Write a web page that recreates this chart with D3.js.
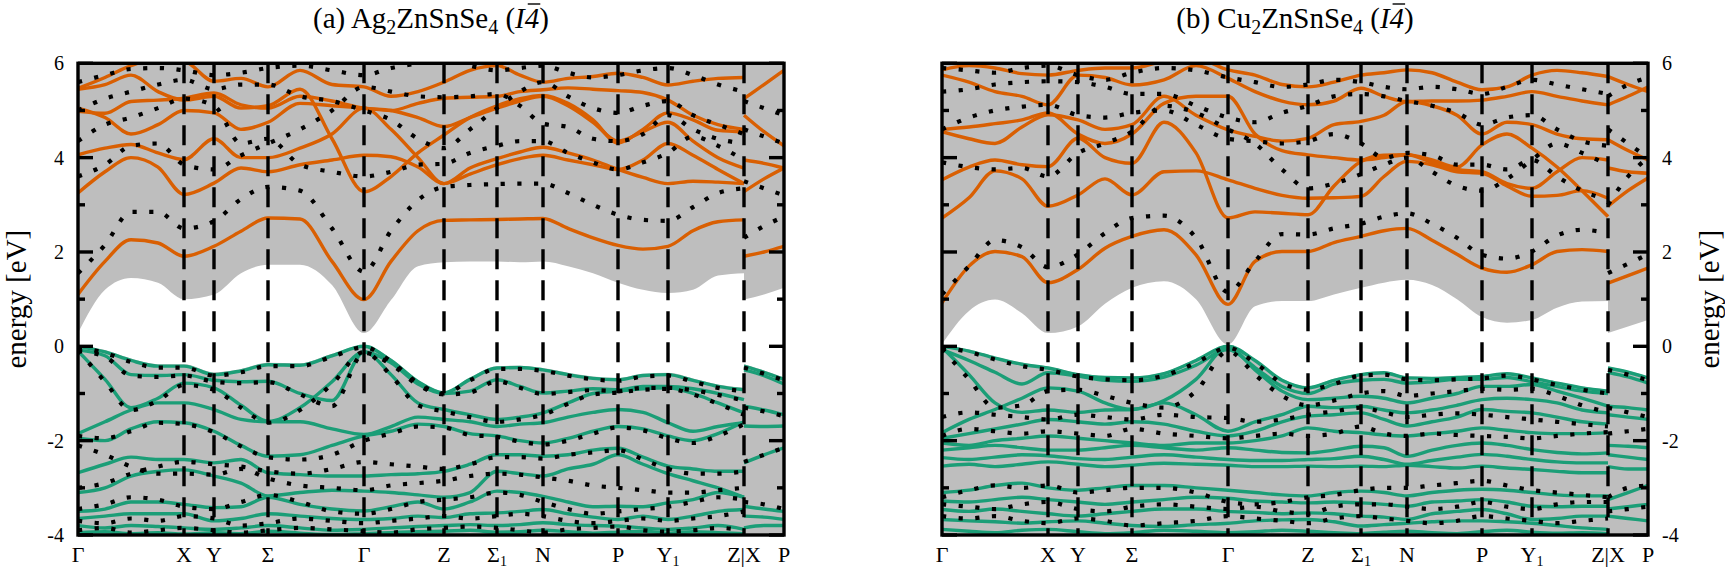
<!DOCTYPE html>
<html>
<head>
<meta charset="utf-8">
<script src="https://cdn.jsdelivr.net/npm/d3@7"></script>
<style>
  body { margin: 0; background: #fff; }
  svg { display: block; font-family: "Liberation Serif", "DejaVu Serif", serif; }
</style>
</head>
<body>
<svg id="chart" width="1725" height="571"></svg>
<script>
/* ============================================================
   Band structures: Ag2ZnSnSe4 / Cu2ZnSnSe4 (I-4)
   ============================================================ */

// k-path sample positions (path length units), main path G..Z and the X..P piece
const K_MAIN = [0, 27, 53, 80, 106, 136, 163, 190, 222, 254, 286, 313, 340, 366, 392, 419, 442, 465, 490, 515, 540, 565, 590, 615, 640, 666];
const K_XP = [666, 686, 706];
const HS_POS = [0, 106, 136, 190, 286, 366, 419, 465, 540, 590, 666, 706];
const HS_LABELS = [['Γ'], ['X'], ['Y'], ['Σ'], ['Γ'], ['Z'], ['Σ', '1'], ['N'], ['P'], ['Y', '1'], ['Z|X'], ['P']];
const Y_TICKS = [-4, -2, 0, 2, 4, 6];
const Y_MINOR = [-3, -1, 1, 3, 5];

// ---------- panel (a) Ag2ZnSnSe4 ----------
const A_CB1 = [1.10, 1.80, 2.26, 2.19, 1.91, 2.12, 2.44, 2.72, 2.70, 1.80, 0.99, 1.80, 2.45, 2.67, 2.68, 2.69, 2.70, 2.71, 2.50, 2.30, 2.14, 2.06, 2.12, 2.45, 2.64, 2.68];
const A_CB2 = [3.25, 3.70, 4.00, 3.80, 3.22, 3.46, 3.78, 3.70, 3.85, 3.95, 4.05, 4.02, 3.80, 3.45, 3.78, 3.98, 4.12, 4.22, 4.10, 3.95, 3.75, 3.58, 3.45, 3.50, 3.48, 3.45];
const A_CB3 = [4.06, 4.20, 4.28, 4.10, 3.96, 4.40, 4.00, 4.00, 4.20, 4.50, 5.05, 4.60, 4.00, 3.45, 3.65, 3.85, 3.98, 4.05, 3.95, 3.85, 3.75, 3.95, 4.30, 4.05, 3.75, 3.45];
const A_CB4 = [5.05, 4.85, 4.50, 4.70, 5.00, 4.95, 4.60, 4.75, 5.15, 5.10, 5.05, 5.00, 5.15, 5.26, 5.28, 5.30, 5.40, 5.44, 5.48, 5.45, 5.42, 5.38, 5.22, 4.90, 4.70, 4.60];
const A_CB5 = [5.45, 5.55, 5.75, 5.40, 5.22, 5.30, 5.05, 5.10, 5.45, 4.40, 3.28, 3.60, 4.10, 4.48, 4.85, 5.10, 5.25, 5.32, 5.15, 4.80, 4.31, 4.60, 4.95, 4.80, 4.58, 4.55];
const A_CB6 = [5.47, 5.70, 5.95, 6.10, 6.05, 5.62, 5.68, 5.50, 5.85, 5.55, 5.50, 5.30, 5.40, 5.60, 5.85, 5.95, 5.75, 5.60, 5.68, 5.72, 5.79, 5.70, 5.54, 5.62, 5.68, 5.70];
const A_CB7 = [4.98, 4.94, 5.19, 5.22, 5.26, 5.37, 5.12, 5.05, 5.30, 5.20, 5.05, 5.00, 4.85, 4.66, 4.85, 5.05, 5.20, 5.30, 5.10, 4.75, 4.35, 4.55, 4.75, 4.35, 4.00, 3.78];
const A_CB_XP = [[1.91, 2.00, 2.12], [3.28, 3.55, 3.78], [3.95, 3.88, 3.78], [4.90, 4.55, 4.25], [5.25, 5.55, 5.85]];

const A_DC1 = [1.55, 2.15, 2.85, 2.85, 2.50, 2.65, 3.12, 3.38, 3.30, 2.50, 1.58, 2.45, 3.10, 3.38, 3.42, 3.44, 3.45, 3.45, 3.25, 3.00, 2.79, 2.68, 2.66, 2.95, 3.25, 3.35];
const A_DC2 = [3.60, 3.85, 4.25, 4.30, 3.85, 3.75, 4.05, 4.30, 4.60, 5.00, 5.50, 5.40, 5.30, 5.28, 5.30, 5.35, 5.10, 4.72, 4.65, 4.40, 4.35, 4.50, 4.90, 4.60, 4.40, 4.30];
const A_DC3 = [4.35, 4.70, 4.85, 5.05, 5.25, 5.10, 4.30, 4.40, 3.85, 3.70, 3.60, 3.70, 3.85, 3.87, 4.10, 4.25, 4.35, 4.35, 4.10, 3.90, 3.75, 3.90, 4.10, 4.45, 4.25, 3.95];
const A_DC4 = [5.00, 5.25, 5.40, 5.55, 5.65, 5.45, 5.55, 5.55, 5.30, 5.20, 5.00, 4.80, 4.40, 4.20, 4.60, 5.05, 5.40, 5.60, 5.30, 5.05, 4.95, 5.10, 5.20, 4.90, 4.70, 4.50];
const A_DC5 = [5.60, 5.75, 5.88, 5.90, 5.85, 5.75, 5.80, 5.90, 5.95, 5.85, 5.75, 5.90, 6.00, 6.10, 5.95, 5.85, 5.90, 5.95, 5.80, 5.70, 5.75, 5.85, 5.90, 5.75, 5.55, 5.40];
const A_DC_XP = [[2.30, 2.55, 2.75], [3.50, 3.35, 3.20], [4.60, 4.45, 4.30], [5.20, 5.05, 4.90]];

const A_VB1 = [0.00, -0.12, -0.30, -0.42, -0.42, -0.60, -0.52, -0.39, -0.40, -0.20, 0.00, -0.30, -0.75, -0.99, -0.70, -0.46, -0.45, -0.50, -0.60, -0.68, -0.71, -0.62, -0.60, -0.72, -0.85, -0.92];
const A_VB2 = [-0.08, -0.20, -0.60, -0.62, -0.60, -0.72, -0.75, -0.74, -1.00, -1.15, -0.12, -0.35, -0.80, -1.00, -0.95, -0.71, -0.85, -0.99, -0.95, -0.90, -0.92, -0.85, -0.85, -0.90, -1.00, -1.13];
const A_VB3 = [-0.10, -0.70, -1.30, -1.10, -0.78, -0.88, -1.25, -1.59, -1.30, -0.75, -0.12, -0.60, -1.20, -1.34, -1.45, -1.55, -1.50, -1.41, -1.20, -1.00, -0.95, -0.90, -0.88, -1.00, -1.20, -1.41];
const A_VB4 = [-1.85, -1.60, -1.35, -1.20, -1.20, -1.34, -1.55, -1.60, -1.60, -1.75, -1.87, -1.70, -1.50, -1.55, -1.60, -1.70, -1.65, -1.62, -1.50, -1.40, -1.34, -1.40, -1.62, -1.80, -1.70, -1.62];
const A_VB5 = [-1.95, -2.00, -1.75, -1.60, -1.62, -1.80, -2.10, -2.33, -2.30, -2.10, -1.90, -1.80, -1.65, -1.70, -1.85, -1.90, -2.00, -2.05, -1.95, -1.80, -1.70, -1.75, -1.90, -2.00, -1.85, -1.60];
const A_VB6 = [-2.68, -2.50, -2.35, -2.40, -2.40, -2.47, -2.40, -2.68, -2.72, -2.75, -2.75, -2.72, -2.70, -2.65, -2.50, -2.30, -2.30, -2.33, -2.30, -2.20, -2.16, -2.35, -2.54, -2.60, -2.65, -2.65];
const A_VB7 = [-3.10, -3.00, -2.75, -2.65, -2.62, -2.75, -2.90, -3.17, -3.10, -3.05, -3.07, -3.10, -3.15, -3.20, -3.10, -2.65, -2.70, -2.75, -2.60, -2.50, -2.30, -2.50, -2.70, -2.85, -3.00, -3.20];
const A_VB8 = [-3.50, -3.45, -3.30, -3.30, -3.35, -3.42, -3.40, -3.20, -3.35, -3.45, -3.49, -3.40, -3.30, -3.45, -3.30, -3.07, -3.10, -3.18, -3.30, -3.40, -3.39, -3.40, -3.32, -3.25, -3.10, -3.20];
const A_VB9 = [-3.65, -3.60, -3.55, -3.55, -3.55, -3.70, -3.65, -3.55, -3.60, -3.65, -3.67, -3.65, -3.60, -3.63, -3.55, -3.53, -3.50, -3.46, -3.55, -3.62, -3.67, -3.60, -3.67, -3.60, -3.50, -3.46];
const A_VB10 = [-3.80, -3.85, -3.80, -3.82, -3.85, -3.88, -3.85, -3.80, -3.85, -3.90, -3.88, -3.85, -3.82, -3.80, -3.78, -3.80, -3.78, -3.74, -3.78, -3.80, -3.81, -3.85, -3.88, -3.85, -3.80, -3.88];
const A_VB11 = [-3.95, -3.93, -3.97, -3.95, -3.98, -3.95, -3.97, -3.92, -3.96, -3.99, -3.97, -3.95, -3.93, -3.92, -3.90, -3.94, -3.93, -3.90, -3.93, -3.96, -3.94, -3.92, -3.96, -3.93, -3.95, -3.97];
const A_VB_XP = [[-0.42, -0.55, -0.70], [-0.50, -0.62, -0.80], [-1.27, -1.35, -1.45], [-1.69, -1.70, -1.69], [-2.47, -2.30, -2.15], [-3.39, -3.45, -3.50], [-3.60, -3.62, -3.67], [-3.85, -3.80, -3.80]];

const A_DV1 = [-0.02, -0.14, -0.33, -0.45, -0.45, -0.62, -0.55, -0.42, -0.42, -0.22, -0.02, -0.32, -0.78, -1.00, -0.72, -0.48, -0.48, -0.52, -0.62, -0.70, -0.73, -0.64, -0.62, -0.75, -0.88, -0.95];
const A_DV2 = [-0.08, -0.75, -1.35, -1.15, -0.82, -0.92, -1.30, -1.62, -1.35, -0.80, -0.12, -0.62, -1.25, -1.38, -1.50, -1.60, -1.55, -1.45, -1.22, -1.02, -0.98, -0.92, -0.90, -1.02, -1.22, -1.45];
const A_DV3 = [-0.10, -0.22, -0.62, -0.65, -0.62, -0.75, -0.78, -0.76, -1.02, -1.27, -0.14, -0.38, -0.82, -1.02, -0.98, -0.74, -0.88, -1.01, -0.97, -0.93, -0.95, -0.88, -0.88, -0.93, -1.03, -1.15];
const A_DV4 = [-1.90, -1.95, -1.80, -1.62, -1.65, -1.82, -2.12, -2.35, -2.40, -2.30, -2.00, -1.85, -1.70, -1.72, -1.88, -1.92, -2.02, -2.08, -2.00, -1.85, -1.72, -1.78, -1.95, -2.05, -1.90, -1.65];
const A_DV5 = [-2.10, -2.30, -2.55, -2.70, -2.70, -2.72, -2.60, -2.80, -2.95, -3.00, -3.05, -2.95, -2.90, -2.85, -2.75, -2.70, -2.72, -2.78, -2.85, -2.95, -3.00, -3.05, -3.10, -3.10, -3.05, -3.00];
const A_DV6 = [-3.00, -2.90, -2.70, -2.55, -2.45, -2.50, -2.55, -2.65, -2.70, -2.60, -2.45, -2.50, -2.55, -2.60, -2.50, -2.35, -2.35, -2.38, -2.30, -2.25, -2.20, -2.40, -2.60, -2.70, -2.70, -2.65];
const A_DV7 = [-3.45, -3.35, -3.20, -3.25, -3.40, -3.45, -3.30, -3.15, -3.30, -3.50, -3.55, -3.45, -3.30, -3.25, -3.20, -3.10, -3.15, -3.30, -3.45, -3.55, -3.50, -3.45, -3.40, -3.30, -3.20, -3.25];
const A_DV8 = [-3.70, -3.75, -3.65, -3.70, -3.60, -3.65, -3.80, -3.75, -3.65, -3.70, -3.75, -3.70, -3.65, -3.60, -3.65, -3.60, -3.55, -3.60, -3.70, -3.75, -3.70, -3.65, -3.70, -3.65, -3.60, -3.50];
const A_DV9 = [-3.90, -3.85, -3.95, -3.90, -3.85, -3.90, -3.95, -3.90, -3.85, -3.88, -3.92, -3.95, -3.88, -3.85, -3.82, -3.85, -3.90, -3.95, -3.88, -3.85, -3.82, -3.90, -3.93, -3.90, -3.85, -3.90];
const A_DV_XP = [[-0.45, -0.58, -0.72], [-1.30, -1.38, -1.48], [-2.45, -2.30, -2.15], [-3.30, -3.35, -3.45]];

// shaded (grey) regions: conduction lower edge, valence upper edge
const A_GAP_TOP = [0.28, 1.20, 1.45, 1.35, 1.00, 1.10, 1.55, 1.73, 1.73, 1.30, 0.28, 0.98, 1.70, 1.78, 1.80, 1.80, 1.78, 1.80, 1.70, 1.55, 1.35, 1.20, 1.13, 1.20, 1.50, 1.55];
const A_GAP_TOP_XP = [0.99, 1.10, 1.24];
const A_VAL_TOP = [0.03, -0.08, -0.26, -0.38, -0.38, -0.55, -0.48, -0.35, -0.36, -0.16, 0.03, -0.26, -0.71, -0.95, -0.66, -0.42, -0.41, -0.46, -0.56, -0.64, -0.67, -0.58, -0.56, -0.68, -0.81, -0.88];
const A_VAL_TOP_XP = [-0.38, -0.51, -0.66];

// ---------- panel (b) Cu2ZnSnSe4 ----------
const B_CB1 = [0.92, 1.70, 2.01, 1.90, 1.35, 1.63, 2.08, 2.33, 2.47, 1.94, 0.89, 1.80, 2.01, 2.01, 2.20, 2.33, 2.45, 2.50, 2.25, 1.95, 1.66, 1.57, 1.73, 2.01, 2.05, 2.01];
const B_CB2 = [2.72, 3.15, 3.72, 3.55, 2.97, 3.21, 3.55, 3.21, 3.70, 3.72, 3.53, 3.35, 3.20, 3.14, 3.15, 3.18, 3.60, 3.92, 3.85, 3.70, 3.67, 3.40, 3.18, 3.20, 3.30, 3.14];
const B_CB3 = [3.53, 3.80, 3.95, 3.85, 3.81, 4.41, 4.00, 3.88, 4.75, 4.10, 2.72, 2.85, 2.82, 2.79, 3.40, 3.92, 4.05, 4.06, 3.95, 3.80, 4.27, 4.50, 4.20, 3.80, 3.30, 2.75];
const B_CB4 = [4.55, 4.40, 4.30, 4.65, 4.91, 4.80, 4.60, 4.70, 5.30, 4.90, 4.59, 4.45, 4.35, 4.41, 4.70, 4.77, 4.90, 5.19, 5.10, 4.90, 4.50, 4.75, 4.70, 4.50, 4.40, 4.38];
const B_CB5 = [5.75, 5.60, 5.40, 5.30, 5.12, 5.75, 5.70, 5.54, 5.65, 5.95, 5.68, 5.40, 5.20, 5.12, 5.20, 5.47, 5.30, 5.19, 5.20, 5.20, 5.22, 5.30, 5.40, 5.30, 5.20, 5.12];
const B_CB6 = [5.86, 5.95, 5.90, 5.78, 5.75, 5.85, 5.90, 5.90, 6.05, 6.10, 5.86, 5.75, 5.55, 5.50, 5.60, 5.75, 5.80, 5.86, 5.80, 5.60, 5.44, 5.50, 5.75, 5.85, 5.80, 5.72];
const B_CB7 = [4.60, 4.65, 4.72, 4.80, 4.95, 4.50, 4.30, 4.50, 5.15, 5.30, 5.30, 4.50, 4.15, 4.06, 4.00, 3.95, 4.00, 4.06, 3.90, 3.75, 3.70, 3.45, 3.35, 3.70, 4.00, 3.95];
const B_CB_XP = [[1.34, 1.50, 1.66], [2.97, 3.30, 3.57], [3.78, 3.70, 3.67], [4.38, 4.15, 3.95], [5.12, 5.30, 5.50], [5.72, 5.55, 5.40]];

const B_DC1 = [1.10, 1.70, 2.25, 2.10, 1.68, 1.95, 2.40, 2.72, 2.77, 2.30, 1.15, 1.80, 2.38, 2.37, 2.50, 2.60, 2.75, 2.82, 2.60, 2.30, 1.94, 1.86, 2.01, 2.35, 2.47, 2.40];
const B_DC2 = [4.60, 4.85, 5.00, 5.08, 5.12, 4.90, 4.85, 4.95, 5.00, 4.70, 4.40, 4.35, 4.30, 4.35, 4.50, 4.30, 4.00, 4.10, 4.05, 3.85, 3.85, 3.75, 3.95, 3.60, 3.30, 3.10];
const B_DC3 = [3.90, 3.80, 3.75, 3.78, 3.60, 4.10, 4.30, 4.55, 5.10, 4.95, 4.60, 4.30, 3.75, 3.35, 3.45, 3.65, 3.85, 4.00, 3.70, 3.40, 3.30, 3.55, 3.95, 4.30, 4.10, 3.85];
const B_DC4 = [5.40, 5.45, 5.55, 5.60, 5.62, 5.60, 5.50, 5.35, 5.35, 5.10, 4.85, 4.75, 4.95, 5.10, 5.30, 5.35, 5.30, 5.20, 5.10, 4.95, 4.70, 4.85, 4.90, 4.60, 4.35, 4.25];
const B_DC5 = [5.90, 5.85, 5.80, 5.90, 5.95, 5.75, 5.65, 5.80, 5.90, 5.85, 5.70, 5.60, 5.50, 5.55, 5.65, 5.60, 5.50, 5.45, 5.50, 5.45, 5.35, 5.50, 5.65, 5.55, 5.45, 5.35];
const B_DC_XP = [[1.55, 1.75, 1.95], [3.00, 3.60, 4.00], [4.60, 4.30, 4.00], [5.30, 5.55, 5.70]];

const B_VB1 = [0.00, -0.10, -0.25, -0.38, -0.46, -0.60, -0.66, -0.67, -0.58, -0.30, 0.00, -0.30, -0.72, -0.88, -0.72, -0.60, -0.56, -0.67, -0.68, -0.66, -0.64, -0.58, -0.67, -0.78, -0.88, -0.95];
const B_VB2 = [-0.07, -0.30, -0.55, -0.80, -0.56, -0.63, -0.72, -0.74, -0.65, -0.40, -0.07, -0.45, -0.85, -1.00, -0.80, -0.72, -0.70, -0.78, -0.75, -0.70, -0.70, -0.66, -0.75, -0.85, -0.95, -1.00];
const B_VB3 = [-0.02, -0.60, -1.20, -1.40, -1.35, -1.40, -1.35, -1.34, -1.15, -0.70, -0.02, -0.50, -0.95, -1.13, -1.10, -1.06, -1.10, -1.20, -1.10, -1.00, -0.85, -0.85, -0.81, -0.95, -1.10, -1.27];
const B_VB4 = [-1.83, -1.55, -1.34, -1.10, -0.88, -0.95, -1.20, -1.34, -1.20, -1.45, -1.80, -1.60, -1.45, -1.27, -1.30, -1.27, -1.35, -1.41, -1.35, -1.25, -1.13, -1.10, -1.13, -1.20, -1.35, -1.41];
const B_VB5 = [-1.95, -1.85, -1.75, -1.65, -1.55, -1.60, -1.65, -1.60, -1.65, -1.80, -1.90, -1.80, -1.60, -1.48, -1.45, -1.41, -1.55, -1.69, -1.60, -1.50, -1.34, -1.38, -1.41, -1.50, -1.60, -1.65];
const B_VB6 = [-2.05, -2.10, -2.00, -1.95, -1.90, -1.95, -2.00, -2.05, -2.10, -2.05, -2.05, -2.00, -1.90, -1.73, -1.80, -1.83, -1.88, -1.90, -1.85, -1.80, -1.73, -1.78, -1.83, -1.85, -1.85, -1.83];
const B_VB7 = [-2.20, -2.15, -2.10, -2.15, -2.20, -2.20, -2.15, -2.10, -2.15, -2.20, -2.15, -2.20, -2.25, -2.26, -2.20, -2.12, -2.15, -2.33, -2.20, -2.10, -2.05, -2.10, -2.19, -2.25, -2.28, -2.26];
const B_VB8 = [-2.36, -2.40, -2.35, -2.30, -2.32, -2.38, -2.40, -2.35, -2.30, -2.35, -2.40, -2.42, -2.42, -2.40, -2.38, -2.33, -2.40, -2.50, -2.42, -2.35, -2.29, -2.33, -2.40, -2.45, -2.47, -2.47];
const B_VB9 = [-2.54, -2.50, -2.55, -2.50, -2.45, -2.50, -2.55, -2.52, -2.48, -2.50, -2.52, -2.55, -2.55, -2.54, -2.55, -2.54, -2.55, -2.52, -2.55, -2.58, -2.54, -2.58, -2.61, -2.65, -2.68, -2.68];
const B_VB10 = [-3.10, -3.05, -2.95, -2.90, -3.00, -3.05, -3.00, -2.95, -2.95, -3.00, -3.05, -3.10, -3.15, -3.17, -3.10, -3.07, -3.10, -3.17, -3.10, -3.05, -3.03, -3.05, -3.10, -3.15, -3.17, -3.17];
const B_VB11 = [-3.28, -3.30, -3.25, -3.20, -3.25, -3.30, -3.35, -3.30, -3.25, -3.20, -3.22, -3.28, -3.30, -3.32, -3.30, -3.32, -3.35, -3.39, -3.30, -3.28, -3.25, -3.30, -3.39, -3.40, -3.39, -3.39];
const B_VB12 = [-3.46, -3.50, -3.45, -3.50, -3.55, -3.60, -3.55, -3.50, -3.45, -3.45, -3.50, -3.52, -3.55, -3.53, -3.55, -3.60, -3.62, -3.67, -3.55, -3.50, -3.46, -3.55, -3.67, -3.65, -3.60, -3.60];
const B_VB13 = [-3.67, -3.70, -3.72, -3.75, -3.72, -3.70, -3.75, -3.80, -3.82, -3.78, -3.75, -3.70, -3.68, -3.67, -3.72, -3.81, -3.78, -3.75, -3.72, -3.70, -3.70, -3.72, -3.75, -3.80, -3.85, -3.88];
const B_VB14 = [-3.88, -3.92, -3.95, -3.90, -3.88, -3.93, -3.97, -3.95, -3.90, -3.92, -3.95, -3.93, -3.90, -3.92, -3.95, -3.97, -3.94, -3.92, -3.95, -3.97, -3.93, -3.90, -3.94, -3.96, -3.95, -3.97];
const B_VB_XP = [[-0.46, -0.55, -0.67], [-0.55, -0.65, -0.78], [-1.27, -1.30, -1.35], [-1.45, -1.50, -1.55], [-2.10, -2.12, -2.15], [-2.30, -2.35, -2.40], [-2.55, -2.60, -2.60], [-3.25, -3.10, -2.95], [-3.45, -3.40, -3.35], [-3.60, -3.65, -3.70]];

const B_DV1 = [-0.02, -0.12, -0.28, -0.42, -0.50, -0.64, -0.70, -0.72, -0.62, -0.35, -0.03, -0.35, -0.78, -0.92, -0.80, -0.62, -0.60, -0.70, -0.72, -0.70, -0.68, -0.62, -0.70, -0.82, -0.92, -1.00];
const B_DV2 = [-0.05, -0.70, -1.30, -1.25, -0.95, -0.92, -1.05, -1.20, -1.30, -0.95, -0.10, -0.60, -1.05, -1.25, -1.15, -1.00, -0.95, -1.05, -1.00, -0.95, -0.90, -0.92, -0.90, -1.05, -1.25, -1.40];
const B_DV3 = [-1.50, -1.40, -1.45, -1.50, -1.55, -1.45, -1.50, -1.55, -1.45, -1.50, -1.52, -1.60, -1.55, -1.45, -1.38, -1.30, -1.40, -1.50, -1.45, -1.42, -1.45, -1.50, -1.55, -1.60, -1.65, -1.70];
const B_DV4 = [-1.90, -1.75, -1.80, -1.85, -1.80, -1.85, -1.90, -1.75, -1.85, -1.90, -1.95, -1.90, -1.85, -1.90, -1.85, -1.70, -1.85, -1.90, -1.85, -1.88, -1.90, -1.92, -1.95, -1.90, -1.85, -1.82];
const B_DV5 = [-3.20, -3.05, -2.95, -3.00, -2.95, -3.10, -3.05, -3.00, -3.00, -3.10, -3.30, -3.35, -3.30, -3.20, -3.15, -3.05, -3.00, -3.00, -2.95, -2.90, -2.85, -2.95, -3.05, -3.10, -3.15, -3.20];
const B_DV6 = [-3.35, -3.40, -3.45, -3.35, -3.30, -3.45, -3.50, -3.40, -3.35, -3.40, -3.45, -3.40, -3.50, -3.55, -3.40, -3.35, -3.35, -3.40, -3.45, -3.40, -3.30, -3.40, -3.45, -3.35, -3.30, -3.30];
const B_DV7 = [-3.60, -3.65, -3.60, -3.70, -3.75, -3.65, -3.70, -3.80, -3.75, -3.70, -3.60, -3.65, -3.70, -3.75, -3.65, -3.60, -3.65, -3.70, -3.75, -3.70, -3.60, -3.65, -3.70, -3.75, -3.70, -3.65];
const B_DV_XP = [[-0.50, -0.60, -0.72], [-1.30, -1.40, -1.50], [-1.85, -1.80, -1.75], [-3.20, -3.00, -2.95], [-3.50, -3.45, -3.40]];

const B_GAP_TOP = [0.05, 0.75, 0.99, 0.70, 0.28, 0.42, 0.90, 1.24, 1.38, 1.00, 0.04, 0.85, 0.96, 0.96, 1.10, 1.24, 1.35, 1.41, 1.30, 1.00, 0.62, 0.50, 0.56, 0.82, 0.95, 0.96];
const B_GAP_TOP_XP = [0.28, 0.42, 0.56];
const B_VAL_TOP = [0.03, -0.07, -0.22, -0.35, -0.43, -0.57, -0.63, -0.64, -0.55, -0.27, 0.03, -0.27, -0.69, -0.85, -0.69, -0.57, -0.53, -0.64, -0.65, -0.63, -0.61, -0.55, -0.64, -0.75, -0.85, -0.92];
const B_VAL_TOP_XP = [-0.43, -0.52, -0.64];

const COLORS = { cond: '#d95f02', val: '#1b9e77', dots: '#000', shade: '#bebebe', frame: '#000' };

/* ============================================================ */

const svg = d3.select('#chart');
const PLOT_TOP = 63.3, PLOT_BOTTOM = 535;

function drawPanel(cfg) {
    const xScale = d3.scaleLinear().domain([0, 706]).range([cfg.x0, cfg.x0 + 706]);
    const yScale = d3.scaleLinear().domain([-4, 6]).range([PLOT_BOTTOM, PLOT_TOP]);
    const g = svg.append('g');

    const clipId = 'clip-' + cfg.id;
    svg.append('clipPath').attr('id', clipId)
        .append('rect').attr('x', cfg.x0).attr('y', PLOT_TOP).attr('width', 706).attr('height', PLOT_BOTTOM - PLOT_TOP);
    const plot = g.append('g').attr('clip-path', `url(#${clipId})`);

    const line = d3.line().x(d => xScale(d[0])).y(d => yScale(d[1])).curve(d3.curveMonotoneX);
    const zipK = (ks, vals) => ks.map((k, i) => [k, vals[i]]);

    // shaded regions
    const areaUp = d3.area().x(d => xScale(d[0])).y0(yScale(6.2)).y1(d => yScale(d[1])).curve(d3.curveMonotoneX);
    const areaDown = d3.area().x(d => xScale(d[0])).y0(yScale(-4.2)).y1(d => yScale(d[1])).curve(d3.curveMonotoneX);
    [[K_MAIN, cfg.gapTop], [K_XP, cfg.gapTopXP]].forEach(([ks, v]) => {
        plot.append('path').attr('d', areaUp(zipK(ks, v))).attr('fill', COLORS.shade);
    });
    [[K_MAIN, cfg.valTop], [K_XP, cfg.valTopXP]].forEach(([ks, v]) => {
        plot.append('path').attr('d', areaDown(zipK(ks, v))).attr('fill', COLORS.shade);
    });

    // solid bands
    const solid = (bands, bandsXP, color) => {
        bands.forEach(b => plot.append('path').attr('d', line(zipK(K_MAIN, b)))
            .attr('fill', 'none').attr('stroke', color).attr('stroke-width', 3.4));
        bandsXP.forEach(b => plot.append('path').attr('d', line(zipK(K_XP, b)))
            .attr('fill', 'none').attr('stroke', color).attr('stroke-width', 3.4));
    };
    solid(cfg.cond, cfg.condXP, COLORS.cond);
    solid(cfg.val, cfg.valXP, COLORS.val);

    // dotted bands
    const dotted = (bands, bandsXP) => {
        bands.forEach(b => plot.append('path').attr('d', line(zipK(K_MAIN, b)))
            .attr('fill', 'none').attr('stroke', COLORS.dots).attr('stroke-width', 4.2).attr('stroke-dasharray', '4.2,12.5'));
        bandsXP.forEach(b => plot.append('path').attr('d', line(zipK(K_XP, b)))
            .attr('fill', 'none').attr('stroke', COLORS.dots).attr('stroke-width', 4.2).attr('stroke-dasharray', '4.2,12.5'));
    };
    dotted(cfg.dotCond, cfg.dotCondXP);
    dotted(cfg.dotVal, cfg.dotValXP);

    // high-symmetry dashed lines
    HS_POS.slice(1, -1).forEach(k => {
        g.append('line').attr('x1', xScale(k)).attr('x2', xScale(k))
            .attr('y1', PLOT_TOP).attr('y2', PLOT_BOTTOM)
            .attr('stroke', '#000').attr('stroke-width', 3.4).attr('stroke-dasharray', '20,11');
    });

    // frame
    g.append('rect').attr('x', cfg.x0).attr('y', PLOT_TOP).attr('width', 706).attr('height', PLOT_BOTTOM - PLOT_TOP)
        .attr('fill', 'none').attr('stroke', COLORS.frame).attr('stroke-width', 3.4);

    // ticks on both sides, pointing inward
    const xl = xScale(0), xr = xScale(706);
    Y_TICKS.forEach(t => {
        g.append('line').attr('x1', xl).attr('x2', xl + 15).attr('y1', yScale(t)).attr('y2', yScale(t)).attr('stroke', '#000').attr('stroke-width', 3.4);
        g.append('line').attr('x1', xr).attr('x2', xr - 15).attr('y1', yScale(t)).attr('y2', yScale(t)).attr('stroke', '#000').attr('stroke-width', 3.4);
    });
    Y_MINOR.forEach(t => {
        g.append('line').attr('x1', xl).attr('x2', xl + 7).attr('y1', yScale(t)).attr('y2', yScale(t)).attr('stroke', '#000').attr('stroke-width', 3.4);
        g.append('line').attr('x1', xr).attr('x2', xr - 7).attr('y1', yScale(t)).attr('y2', yScale(t)).attr('stroke', '#000').attr('stroke-width', 3.4);
    });

    // y tick labels + axis title
    const labelX = cfg.labelSide === 'left' ? xl - 14 : xr + 14;
    Y_TICKS.forEach(t => {
        g.append('text').attr('x', labelX).attr('y', yScale(t)).attr('dy', '0.35em')
            .attr('text-anchor', cfg.labelSide === 'left' ? 'end' : 'start')
            .attr('font-size', 20).text(t);
    });
    const axX = cfg.labelSide === 'left' ? 17 : 1710;
    g.append('text').attr('transform', `translate(${axX},${(PLOT_TOP + PLOT_BOTTOM) / 2}) rotate(-90)`)
        .attr('text-anchor', 'middle').attr('dy', '0.3em').attr('font-size', 29).text('energy [eV]');

    // k-point labels
    HS_POS.forEach((k, i) => {
        const lab = HS_LABELS[i];
        const t = g.append('text').attr('x', xScale(k)).attr('y', 562).attr('text-anchor', 'middle').attr('font-size', 22);
        t.append('tspan').text(lab[0]);
        if (lab[1]) t.append('tspan').attr('font-size', 14).attr('dy', 4).text(lab[1]);
    });

    // title, with an overbar drawn above the italic 4
    const cx = xScale(353);
    const title = g.append('text').attr('x', cx).attr('y', 28).attr('text-anchor', 'middle').attr('font-size', 29);
    title.append('tspan').text(cfg.tag + ' ' + cfg.el1);
    title.append('tspan').attr('font-size', 20).attr('dy', 6).text('2');
    title.append('tspan').attr('dy', -6).text('ZnSnSe');
    title.append('tspan').attr('font-size', 20).attr('dy', 6).text('4');
    title.append('tspan').attr('dy', -6).text(' (');
    title.append('tspan').attr('font-style', 'italic').text('I4');
    title.append('tspan').text(')');
    const barIdx = title.text().indexOf('I4') + 1;
    const ext = title.node().getExtentOfChar(barIdx);
    g.append('line').attr('x1', ext.x + 3).attr('x2', ext.x + ext.width + 1)
        .attr('y1', ext.y + 2).attr('y2', ext.y + 2).attr('stroke', '#000').attr('stroke-width', 1.4);
}

drawPanel({
    id: 'a', x0: 78, labelSide: 'left', tag: '(a)', el1: 'Ag',
    cond: [A_CB1, A_CB2, A_CB3, A_CB4, A_CB5, A_CB6, A_CB7], condXP: A_CB_XP,
    val: [A_VB1, A_VB2, A_VB3, A_VB4, A_VB5, A_VB6, A_VB7, A_VB8, A_VB9, A_VB10, A_VB11], valXP: A_VB_XP,
    dotCond: [A_DC1, A_DC2, A_DC3, A_DC4, A_DC5], dotCondXP: A_DC_XP,
    dotVal: [A_DV1, A_DV2, A_DV3, A_DV4, A_DV5, A_DV6, A_DV7, A_DV8, A_DV9], dotValXP: A_DV_XP,
    gapTop: A_GAP_TOP, gapTopXP: A_GAP_TOP_XP, valTop: A_VAL_TOP, valTopXP: A_VAL_TOP_XP
});

drawPanel({
    id: 'b', x0: 942, labelSide: 'right', tag: '(b)', el1: 'Cu',
    cond: [B_CB1, B_CB2, B_CB3, B_CB4, B_CB5, B_CB6, B_CB7], condXP: B_CB_XP,
    val: [B_VB1, B_VB2, B_VB3, B_VB4, B_VB5, B_VB6, B_VB7, B_VB8, B_VB9, B_VB10, B_VB11, B_VB12, B_VB13, B_VB14], valXP: B_VB_XP,
    dotCond: [B_DC1, B_DC2, B_DC3, B_DC4, B_DC5], dotCondXP: B_DC_XP,
    dotVal: [B_DV1, B_DV2, B_DV3, B_DV4, B_DV5, B_DV6, B_DV7], dotValXP: B_DV_XP,
    gapTop: B_GAP_TOP, gapTopXP: B_GAP_TOP_XP, valTop: B_VAL_TOP, valTopXP: B_VAL_TOP_XP
});
</script>
</body>
</html>
